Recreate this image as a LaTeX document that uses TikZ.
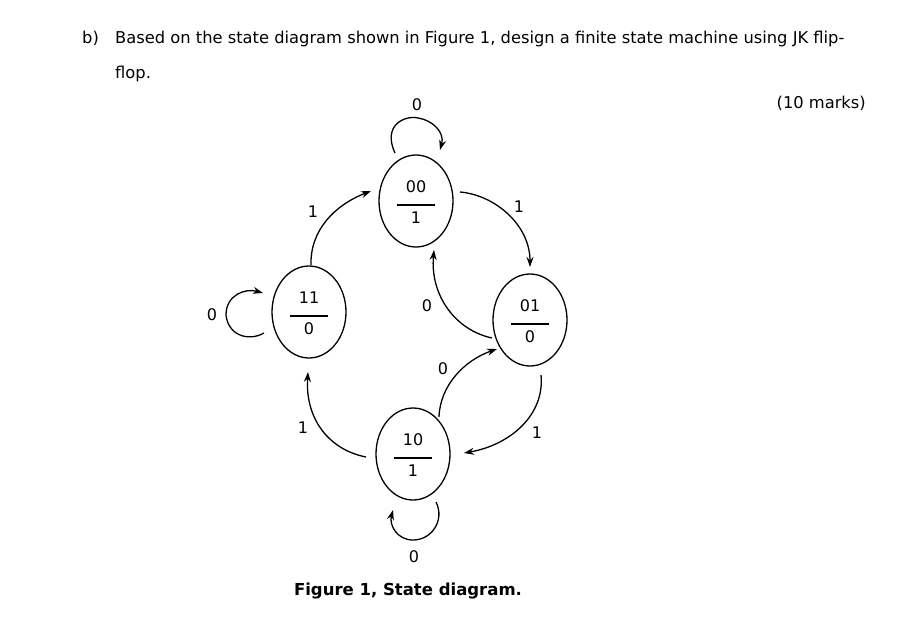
\documentclass[tikz,border=0pt]{standalone}
\usepackage{fontspec}
\setmainfont{DejaVu Sans}
\usetikzlibrary{arrows.meta,shapes.geometric}
\begin{document}
\begin{tikzpicture}[x=1pt,y=-1pt,
  st/.style={draw,line width=1.3pt,ellipse,minimum width=74pt,minimum height=92pt,inner sep=0pt},
  ed/.style={line width=1.3pt,-{Stealth[length=10pt,width=7pt]}},
  lb/.style={font=\fontsize{16}{16}\selectfont},
  body/.style={font=\fontsize{16.3}{16}\selectfont,anchor=base west,inner sep=0pt}]
\useasboundingbox (0,0) rectangle (904,618);
\node[body] (qb) at (82,44) {b)};
\node[body] (q) at (115,44) {Based on the state diagram shown in Figure 1, design a finite state machine using JK flip-};
\node[body] (q2) at (115,78) {flop.};
\node[body,anchor=base east] (m) at (866,108) {(10 marks)};

\node[st] (s00) at (416,201) {};
\node[st] (s11) at (309,312) {};
\node[st] (s01) at (530,320) {};
\node[st] (s10) at (413,454) {};
\foreach \n/\a/\b in {s00/00/1,s11/11/0,s01/01/0,s10/10/1}{
  \node[lb] at ([yshift=14pt]\n.center) {\a};
  \node[lb] at ([yshift=-17pt]\n.center) {\b};
  \draw[line width=1.3pt] ([xshift=-19pt,yshift=-4pt]\n.center) -- ([xshift=19pt,yshift=-4pt]\n.center);
}
% self loops
\coordinate (a1) at (395,153); \coordinate (a2) at (440,150);
\draw[ed] (a1) .. controls (382,125) and (405,115) .. (418,118) .. controls (432,120) and (445,132) .. (a2);
\node[lb] (l1) at (417,105) {0};
\coordinate (b1) at (264,333); \coordinate (b2) at (263,293);
\draw[ed] (b1) .. controls (248,342) and (228,335) .. (226,315) .. controls (226,295) and (245,288) .. (b2);
\node[lb] (l2) at (212,315) {0};
\coordinate (c1) at (436,502); \coordinate (c2) at (393,510);
\draw[ed] (c1) .. controls (445,520) and (432,540) .. (413,540) .. controls (397,540) and (389,525) .. (c2);
\node[lb] (l3) at (414,557) {0};
% transitions
\coordinate (d1) at (311,265); \coordinate (d2) at (371,191);
\draw[ed] (d1) .. controls (310,230) and (335,205) .. (d2);
\node[lb] at (313,212) {1};
\coordinate (e1) at (460,192); \coordinate (e2) at (530,267);
\draw[ed] (e1) .. controls (495,195) and (530,225) .. (e2);
\node[lb] at (519,207) {1};
\coordinate (f1) at (492,338); \coordinate (f2) at (434,250);
\draw[ed] (f1) .. controls (455,330) and (430,295) .. (f2);
\node[lb] at (427,306) {0};
\coordinate (g1) at (439,417); \coordinate (g2) at (497,349);
\draw[ed] (g1) .. controls (440,385) and (465,360) .. (g2);
\node[lb] at (443,369) {0};
\coordinate (h1) at (541,375); \coordinate (h2) at (464,453);
\draw[ed] (h1) .. controls (545,415) and (510,445) .. (h2);
\node[lb] at (537,433) {1};
\coordinate (i1) at (366,457); \coordinate (i2) at (308,372);
\draw[ed] (i1) .. controls (330,450) and (305,420) .. (i2);
\node[lb] at (303,428) {1};
\node[font=\bfseries\fontsize{16.5}{16}\selectfont] (cap) at (408,591) {Figure 1, State diagram.};
\end{tikzpicture}
\end{document}
